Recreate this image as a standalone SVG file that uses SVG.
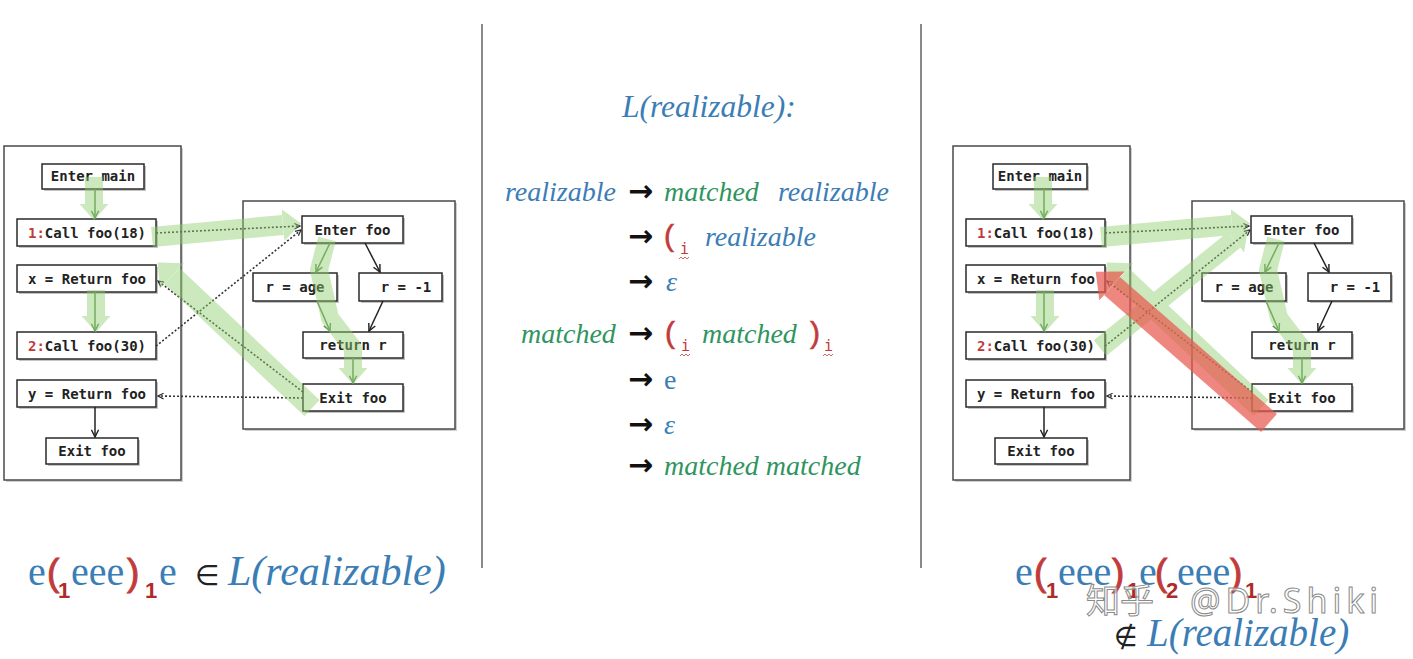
<svg xmlns="http://www.w3.org/2000/svg" width="1413" height="659" viewBox="0 0 1413 659">
<style>
.frame{fill:#fff;stroke:#4a4a4a;stroke-width:1.5}
.fshd{fill:#cfcfcf}
.box{fill:#fff;stroke:#2a2a2a;stroke-width:1.5}
.shd{fill:#c4c4c4}
.code{font-family:"DejaVu Sans Mono","Liberation Mono",monospace;font-weight:bold;font-size:14px;fill:#222;text-anchor:middle}
.num{fill:#c03a3a}
.edge{fill:none;stroke:#222;stroke-width:1.5;marker-end:url(#ahk)}
.edgeg{fill:none;stroke:#5d8f52;stroke-width:1.5;marker-end:url(#ahg)}
.dot{fill:none;stroke:#333;stroke-width:1.6;stroke-dasharray:2 2}
.dota{marker-end:url(#ahd)}
.gband{fill:none;stroke:#8fcf6f;stroke-width:18;stroke-linejoin:round;marker-end:url(#gh)}
.rband{fill:none;stroke:#e85a50;stroke-width:24;marker-end:url(#rh)}
.div{stroke:#8a8a8a;stroke-width:2}
.it{font-family:"Liberation Serif",serif;font-style:italic;font-size:28px}
.rm{font-family:"Liberation Serif",serif;font-size:28px}
.arr{font-family:"DejaVu Sans",sans-serif;font-weight:bold;font-size:30px;fill:#111}
.par{font-family:"Liberation Sans",sans-serif;font-size:30px;fill:#c23b3b;stroke:#c23b3b;stroke-width:0.6}
.sub{font-family:"DejaVu Sans Mono",monospace;font-size:15px;fill:#c23b3b}
.blue{fill:#3b7db5}
.green{fill:#2f9560}
.red{fill:#c23b3b}
.big{font-family:"Liberation Serif",serif;font-size:40px}
.bigpar{font-family:"Liberation Sans",sans-serif;font-size:37px;fill:#c23b3b;stroke:#c23b3b;stroke-width:1}
.bsub{font-family:"Liberation Sans",sans-serif;font-weight:bold;font-size:22px;fill:#b02a2a}
.wm{font-family:"Noto Sans","Noto Sans CJK SC",sans-serif;font-size:34px;fill:#fff;fill-opacity:0.6;stroke:#8a8a8a;stroke-width:1}
.wavy{fill:none;stroke:#d04040;stroke-width:0.8}
</style>
<defs>
<marker id="ahk" viewBox="0 0 10 10" refX="9" refY="5" markerWidth="9" markerHeight="9" markerUnits="userSpaceOnUse" orient="auto"><path d="M1,1 L9,5 L1,9" fill="none" stroke="#222" stroke-width="1.6"/></marker>
<marker id="ahg" viewBox="0 0 10 10" refX="9" refY="5" markerWidth="9" markerHeight="9" markerUnits="userSpaceOnUse" orient="auto"><path d="M1,1 L9,5 L1,9" fill="none" stroke="#5d8f52" stroke-width="1.6"/></marker>
<marker id="ahd" viewBox="0 0 10 10" refX="9" refY="5" markerWidth="7" markerHeight="7" markerUnits="userSpaceOnUse" orient="auto"><path d="M1,1 L9,5 L1,9" fill="none" stroke="#333" stroke-width="1.8"/></marker>
<marker id="gh" viewBox="0 -0.8 0.9 1.6" refX="0" refY="0" markerWidth="0.9" markerHeight="1.6" orient="auto"><path d="M0,-0.8 L0.9,0 L0,0.8 z" fill="#8fcf6f"/></marker>
<marker id="rh" viewBox="0 -0.8 0.9 1.6" refX="0" refY="0" markerWidth="0.9" markerHeight="1.6" orient="auto"><path d="M0,-0.8 L0.9,0 L0,0.8 z" fill="#e85a50"/></marker>
</defs>
<rect width="1413" height="659" fill="#fff"/>

<g id="dividers">
<line class="div" x1="482" y1="24" x2="482" y2="568"/>
<line class="div" x1="921" y1="24" x2="921" y2="568"/>
</g>

<!-- LEFT PANEL -->
<g id="left-panel">
<g id="l-main-frame"><rect class="fshd" x="6" y="148" width="177" height="334"/><rect class="frame" x="4" y="146" width="177" height="334"/></g>
<g id="l-foo-frame"><rect class="fshd" x="245" y="203" width="212" height="228"/><rect class="frame" x="243" y="201" width="212" height="228"/></g>
<g id="l-enter-main"><rect class="shd" x="44" y="166" width="102" height="25"/><rect class="box" x="42" y="164" width="102" height="25"/><text class="code" x="93" y="181">Enter main</text></g>
<g id="l-call1"><rect class="shd" x="19" y="221" width="139" height="27"/><rect class="box" x="17" y="219" width="139" height="27"/><text class="code" x="87" y="237.5"><tspan class="num">1:</tspan>Call foo(18)</text></g>
<g id="l-xret"><rect class="shd" x="19" y="267" width="139" height="27"/><rect class="box" x="17" y="265" width="139" height="27"/><text class="code" x="87" y="283.5">x = Return foo</text></g>
<g id="l-call2"><rect class="shd" x="19" y="334" width="139" height="27"/><rect class="box" x="17" y="332" width="139" height="27"/><text class="code" x="87" y="350.5"><tspan class="num">2:</tspan>Call foo(30)</text></g>
<g id="l-yret"><rect class="shd" x="19" y="382" width="139" height="27"/><rect class="box" x="17" y="380" width="139" height="27"/><text class="code" x="87" y="398.5">y = Return foo</text></g>
<g id="l-exit-main"><rect class="shd" x="48" y="440" width="92" height="26"/><rect class="box" x="46" y="438" width="92" height="26"/><text class="code" x="92" y="456">Exit foo</text></g>
<g id="l-enter-foo"><rect class="shd" x="304" y="218" width="101" height="27"/><rect class="box" x="302" y="216" width="101" height="27"/><text class="code" x="352.5" y="234.5">Enter foo</text></g>
<g id="l-r-age"><rect class="shd" x="255" y="275" width="84" height="28"/><rect class="box" x="253" y="273" width="84" height="28"/><text class="code" x="295" y="292">r = age</text></g>
<g id="l-r-m1"><rect class="shd" x="361" y="275" width="83" height="28"/><rect class="box" x="359" y="273" width="83" height="28"/><text class="code" x="406" y="292">r = -1</text></g>
<g id="l-return-r"><rect class="shd" x="305" y="334" width="100" height="26"/><rect class="box" x="303" y="332" width="100" height="26"/><text class="code" x="353" y="350">return r</text></g>
<g id="l-exit-foo"><rect class="shd" x="305" y="386" width="100" height="27"/><rect class="box" x="303" y="384" width="100" height="27"/><text class="code" x="353" y="402.5">Exit foo</text></g>
<g id="l-connectors">
<path class="edgeg" d="M95,189 L95,218"/>
<path class="edgeg" d="M95,292 L95,331"/>
<path class="edge" d="M95,407 L95,437"/>
<path class="edgeg" d="M330,243 L316,272"/>
<path class="edge" d="M365,243 L380,272"/>
<path class="edgeg" d="M317,301 L330,331"/>
<path class="edge" d="M383,301 L369,331"/>
<path class="edgeg" d="M353,358 L353,383"/>
<path class="dot dota" d="M156,233 L300,226"/>
<path class="dot dota" d="M156,346 L301,230"/>
<path class="dot dota" d="M303,392 L158,281"/>
<path class="dot dota" d="M303,398 L158,396"/>
</g>
<g id="l-highlights" opacity="0.45">
<path class="gband" d="M94,177 L94,204"/>
<path class="gband" d="M152,237 L283,225" style="stroke-width:20"/>
<path class="gband" d="M327,239 L319,270 L330,318 L353,348 L353,368"/>
<path class="gband" d="M312,408 L172,276" style="stroke-width:22"/>
<path class="gband" d="M96,290 L96,316"/>
</g>
</g>

<!-- MIDDLE GRAMMAR -->
<g id="grammar">
<text class="it blue" x="622" y="117" style="font-size:31.5px">L(realizable):</text>
<text class="it blue" x="505" y="201">realizable</text>
<text class="arr" x="628" y="201">→</text>
<text class="it green" x="664" y="201">matched</text>
<text class="it blue" x="778" y="201">realizable</text>

<text class="arr" x="628" y="246">→</text>
<text class="par" x="664" y="246">(</text>
<text class="sub" x="680" y="254">i</text>
<path class="wavy" d="M679,259 l2,-2 l2,2 l2,-2 l2,2 l2,-2"/>
<text class="it blue" x="705" y="246">realizable</text>

<text class="arr" x="628" y="291">→</text>
<text class="it blue" x="666" y="291">ε</text>

<text class="it green" x="521" y="343">matched</text>
<text class="arr" x="628" y="343">→</text>
<text class="par" x="665" y="343">(</text>
<text class="sub" x="681" y="351">i</text>
<path class="wavy" d="M680,356 l2,-2 l2,2 l2,-2 l2,2 l2,-2"/>
<text class="it green" x="702" y="343">matched</text>
<text class="par" x="810" y="343">)</text>
<text class="sub" x="824" y="351">i</text>
<path class="wavy" d="M823,356 l2,-2 l2,2 l2,-2 l2,2 l2,-2"/>

<text class="arr" x="628" y="389">→</text>
<text class="rm blue" x="664" y="389">e</text>
<text class="arr" x="628" y="434">→</text>
<text class="it blue" x="664" y="434">ε</text>
<text class="arr" x="628" y="475">→</text>
<text class="it green" x="664" y="475">matched matched</text>
</g>

<!-- BOTTOM LEFT FORMULA -->
<g id="formula-left">
<text class="big blue" x="28" y="585">e</text>
<text class="bigpar" x="47" y="585">(</text>
<text class="bsub" x="58" y="598">1</text>
<text class="big blue" x="71" y="585">eee</text>
<text class="bigpar" x="127" y="585">)</text>
<text class="bsub" x="145" y="598">1</text>
<text class="big blue" x="159" y="585">e</text>
<text x="195" y="585" style="font-family:'DejaVu Sans',sans-serif;font-size:28px;fill:#222">∈</text>
<text class="big blue" x="228" y="585" style="font-style:italic;font-size:42px">L(realizable)</text>
</g>

<!-- RIGHT PANEL -->
<g id="right-panel" transform="translate(949,0)">
<g id="r-main-frame"><rect class="fshd" x="6" y="148" width="177" height="334"/><rect class="frame" x="4" y="146" width="177" height="334"/></g>
<g id="r-foo-frame"><rect class="fshd" x="245" y="203" width="212" height="228"/><rect class="frame" x="243" y="201" width="212" height="228"/></g>
<g id="r-enter-main"><rect class="shd" x="46" y="166" width="94" height="25"/><rect class="box" x="44" y="164" width="94" height="25"/><text class="code" x="91" y="181">Enter main</text></g>
<g id="r-call1"><rect class="shd" x="19" y="221" width="139" height="27"/><rect class="box" x="17" y="219" width="139" height="27"/><text class="code" x="87" y="237.5"><tspan class="num">1:</tspan>Call foo(18)</text></g>
<g id="r-xret"><rect class="shd" x="19" y="267" width="139" height="27"/><rect class="box" x="17" y="265" width="139" height="27"/><text class="code" x="87" y="283.5">x = Return foo</text></g>
<g id="r-call2"><rect class="shd" x="19" y="334" width="139" height="27"/><rect class="box" x="17" y="332" width="139" height="27"/><text class="code" x="87" y="350.5"><tspan class="num">2:</tspan>Call foo(30)</text></g>
<g id="r-yret"><rect class="shd" x="19" y="382" width="139" height="27"/><rect class="box" x="17" y="380" width="139" height="27"/><text class="code" x="87" y="398.5">y = Return foo</text></g>
<g id="r-exit-main"><rect class="shd" x="48" y="440" width="92" height="26"/><rect class="box" x="46" y="438" width="92" height="26"/><text class="code" x="92" y="456">Exit foo</text></g>
<g id="r-enter-foo"><rect class="shd" x="304" y="218" width="101" height="27"/><rect class="box" x="302" y="216" width="101" height="27"/><text class="code" x="352.5" y="234.5">Enter foo</text></g>
<g id="r-r-age"><rect class="shd" x="255" y="275" width="84" height="28"/><rect class="box" x="253" y="273" width="84" height="28"/><text class="code" x="295" y="292">r = age</text></g>
<g id="r-r-m1"><rect class="shd" x="361" y="275" width="83" height="28"/><rect class="box" x="359" y="273" width="83" height="28"/><text class="code" x="406" y="292">r = -1</text></g>
<g id="r-return-r"><rect class="shd" x="305" y="334" width="100" height="26"/><rect class="box" x="303" y="332" width="100" height="26"/><text class="code" x="353" y="350">return r</text></g>
<g id="r-exit-foo"><rect class="shd" x="305" y="386" width="100" height="27"/><rect class="box" x="303" y="384" width="100" height="27"/><text class="code" x="353" y="402.5">Exit foo</text></g>
<g id="r-connectors">
<path class="edgeg" d="M95,189 L95,218"/>
<path class="edgeg" d="M95,292 L95,331"/>
<path class="edge" d="M95,407 L95,437"/>
<path class="edgeg" d="M330,243 L316,272"/>
<path class="edge" d="M365,243 L380,272"/>
<path class="edgeg" d="M317,301 L330,331"/>
<path class="edge" d="M383,301 L369,331"/>
<path class="edgeg" d="M353,358 L353,383"/>
<path class="dot dota" d="M156,233 L300,226"/>
<path class="dot dota" d="M156,346 L301,230"/>
<path class="dot dota" d="M303,392 L158,281"/>
<path class="dot dota" d="M303,398 L158,396"/>
</g>
<g id="r-highlights" opacity="0.45">
<path class="gband" d="M94,177 L94,204"/>
<path class="gband" d="M152,237 L283,225" style="stroke-width:20"/>
<path class="gband" d="M327,239 L319,270 L330,318 L353,348 L353,368"/>
<path class="gband" d="M312,408 L172,276" style="stroke-width:22"/>
<path class="gband" d="M96,290 L96,316"/>
<path class="gband" d="M151,348 L285,240" style="stroke-width:20"/>
</g>
<g id="r-mismatch" opacity="0.72">
<path class="rband" d="M320,423 L163,286"/>
</g>
</g>

<!-- BOTTOM RIGHT FORMULA -->
<g id="formula-right">
<text class="big blue" x="1015" y="585">e</text>
<text class="bigpar" x="1034" y="585">(</text>
<text class="bsub" x="1046" y="598">1</text>
<text class="big blue" x="1058" y="585">eee</text>
<text class="bigpar" x="1112" y="585">)</text>
<text class="bsub" x="1127" y="598">1</text>
<text class="big blue" x="1139" y="585">e</text>
<text class="bigpar" x="1155" y="585">(</text>
<text class="bsub" x="1166" y="598">2</text>
<text class="big blue" x="1177" y="585">eee</text>
<text class="bigpar" x="1230" y="585">)</text>
<text class="bsub" x="1245" y="598">1</text>
<text x="1114" y="646" style="font-family:'DejaVu Sans',sans-serif;font-size:27px;fill:#222">∉</text>
<text class="big blue" x="1147" y="646" style="font-style:italic;font-size:39px">L(realizable)</text>
</g>

<g id="watermark">
<text class="wm" x="1086" y="613" style="font-family:'Noto Sans CJK SC',sans-serif">知乎</text>
<text class="wm" x="1190" y="613" textLength="188" lengthAdjust="spacing">@Dr.Shiki</text>
</g>
</svg>
